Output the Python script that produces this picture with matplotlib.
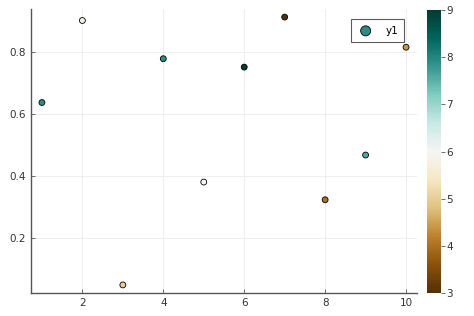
import matplotlib
matplotlib.use("Agg")
import matplotlib.pyplot as plt
import numpy as np

xs = [1, 2, 3, 4, 5, 6, 7, 8, 9, 10]
ys = [0.637, 0.901, 0.050, 0.778, 0.381, 0.751, 0.912, 0.324, 0.468, 0.815]
zs = [7.9, 5.8, 5.0, 7.9, 6.0, 9.0, 3.0, 4.0, 7.6, 4.4]

plt.rcParams['font.family'] = ['DejaVu Sans']

fig = plt.figure(figsize=(4.74, 3.16), dpi=100)
ax = fig.add_axes([0.0654, 0.0728, 0.8143, 0.8987])
cax = fig.add_axes([0.9008, 0.0728, 0.0295, 0.8955])

sc = ax.scatter(xs, ys, c=zs, cmap='BrBG', vmin=3, vmax=9, s=18,
                edgecolors='black', linewidths=0.6, zorder=3, label='y1')

ax.set_xlim(0.73, 10.27)
ax.set_ylim(0.024, 0.938)
ax.set_xticks([2, 4, 6, 8, 10])
ax.set_yticks([0.2, 0.4, 0.6, 0.8])
ax.grid(True, color='#ebebeb', linewidth=0.6)
ax.set_axisbelow(True)
for s in ['top', 'right']:
    ax.spines[s].set_visible(False)
for s in ['left', 'bottom']:
    ax.spines[s].set_color('#555555')
    ax.spines[s].set_linewidth(1.0)
ax.tick_params(direction='in', length=3, width=0.6, color='#555555',
               labelsize=7.5, labelcolor='#333333')

leg = ax.legend(loc='upper right', bbox_to_anchor=(0.981, 0.982), fontsize=7.5,
                markerscale=1.7, fancybox=False, edgecolor='#333333',
                handletextpad=1.1, borderpad=0.6, handlelength=1.6)
leg.legend_handles[0].set_facecolor('#1a8078')
leg.get_frame().set_linewidth(0.8)

cb = fig.colorbar(sc, cax=cax)
cb.outline.set_visible(False)
cb.set_ticks([3, 4, 5, 6, 7, 8, 9])
cax.tick_params(length=3, width=0.6, color='#555555', labelsize=7.5,
                labelcolor='#333333', pad=1)

fig.savefig('out.png', dpi=100)
